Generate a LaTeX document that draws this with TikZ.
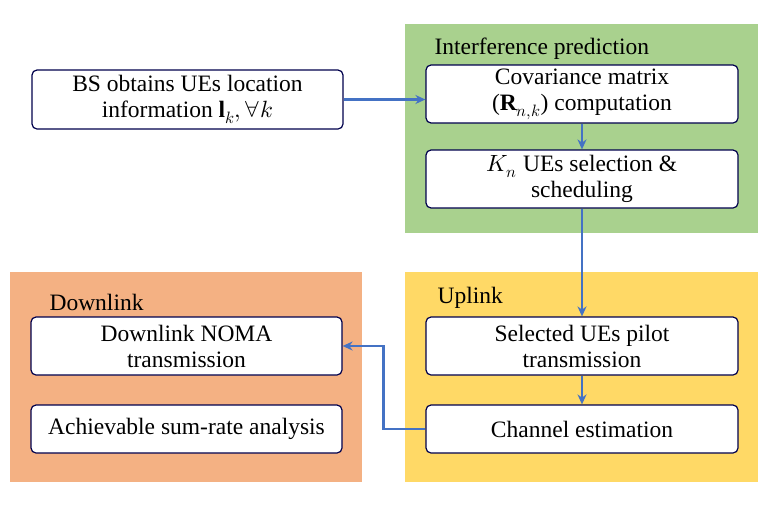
\documentclass[tikz,border=0pt]{standalone}
\usepackage{fontspec}
\setmainfont{Liberation Serif}
\usepackage{unicode-math}
\setmathfont{Latin Modern Math}
\begin{document}
\begin{tikzpicture}[x=1pt,y=-1pt,
  box/.style={draw=black!70!blue,line width=1.2pt,fill=white,rounded corners=5pt,align=center,font=\fontsize{23.5}{26}\selectfont,inner sep=0pt},
  arr/.style={draw=arrc,line width=2.6pt,-{Stealth[length=10pt,width=9pt]}},
  lab/.style={anchor=west,font=\fontsize{23.5}{26}\selectfont}]
\usetikzlibrary{arrows.meta}
\definecolor{gr}{RGB}{169,209,142}
\definecolor{org}{RGB}{244,177,131}
\definecolor{yel}{RGB}{255,217,102}
\definecolor{arrc}{RGB}{68,114,196}
\useasboundingbox (0,0) rectangle (769,509);
\fill[gr] (405,24) rectangle (758,233);
\fill[org] (10,272) rectangle (362,482);
\fill[yel] (405,272) rectangle (758,482);
\node[lab] (l1) at (431,49) {Interference prediction};
\node[lab] (l2) at (434,298) {Uplink};
\node[lab] (l3) at (46,302) {Downlink};
\node[box,minimum width=311pt,minimum height=59pt] (bs) at (187.5,99.5) {BS obtains UEs location\\information $\mathbf{l}_k,\forall k$};
\node[box,minimum width=312pt,minimum height=58pt] (cov) at (582,94) {Covariance matrix\\($\mathbf{R}_{n,k}$) computation};
\node[box,minimum width=312pt,minimum height=58pt] (kn) at (582,179) {$K_n$ UEs selection \&\\scheduling};
\node[box,minimum width=312pt,minimum height=58pt] (sel) at (582,346) {Selected UEs pilot\\transmission};
\node[box,minimum width=312pt,minimum height=48pt] (ch) at (582,429) {Channel estimation};
\node[box,minimum width=311pt,minimum height=58pt] (dl) at (186.5,346) {Downlink NOMA\\transmission};
\node[box,minimum width=311pt,minimum height=48pt] (ach) at (186.5,429) {Achievable sum-rate analysis};
\draw[arr] (bs.east) -- (bs.east -| cov.west);
\draw[arr] (cov) -- (kn);
\draw[arr] (kn) -- (sel);
\draw[arr] (sel) -- (ch);
\draw[arr] (ch.west) -- ++(-42,0) |- (dl.east);
\end{tikzpicture}
\end{document}
